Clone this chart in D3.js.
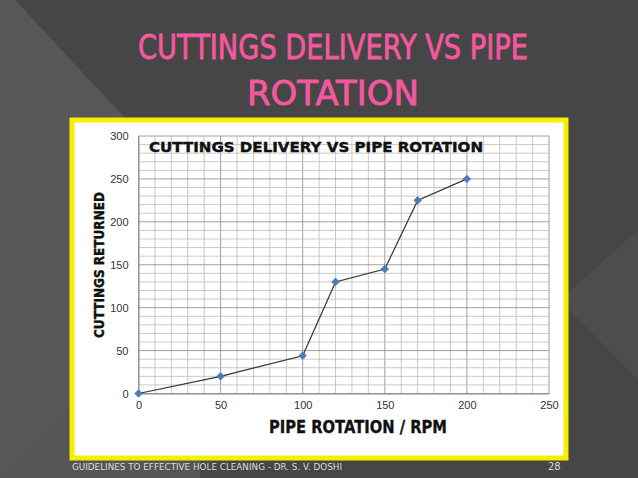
<!DOCTYPE html><html><head><meta charset="utf-8"><script src="https://cdn.jsdelivr.net/npm/d3@7"></script>
<style>body{margin:0;background:#454545}svg{display:block}</style></head><body><svg width="638" height="478"></svg>
<script>
const rpm=[0,50,100,120,150,170,200];
const cuttings=[0,20,44,130,145,225,250];
const xTicks=[0,50,100,150,200,250];
const yTicks=[0,50,100,150,200,250,300];
const svg=d3.select("svg");
svg.append("rect").attr("width",638).attr("height",478).attr("fill","#464646");
svg.append("path").attr("d","M0,0 L15,0 L200,200 L200,478 L0,478Z").attr("fill","#555");
svg.append("path").attr("d","M0,0 L15,0 L240,240 L0,478Z").attr("fill","#5a5a5a").attr("opacity",0.5);
svg.append("path").attr("d","M638,230 L560,300 L638,380Z").attr("fill","#4d4d4d");
const tt=svg.append("g").attr("font-family","'DejaVu Sans',sans-serif").attr("fill","#f4589e").attr("stroke","#f4589e").attr("stroke-width",0.8).attr("text-anchor","middle").attr("font-size","33px");
tt.append("text").attr("x",333).attr("y",59).text("CUTTINGS DELIVERY VS PIPE").attr("textLength",390).attr("lengthAdjust","spacingAndGlyphs");
tt.append("text").attr("x",333).attr("y",105).text("ROTATION").attr("textLength",172).attr("lengthAdjust","spacingAndGlyphs");
svg.append("rect").attr("x",72).attr("y",120).attr("width",494).attr("height",338).attr("fill","#fff").attr("stroke","#f4f000").attr("stroke-width",5);
const x=d3.scaleLinear().domain([0,250]).range([138.5,549]);
const y=d3.scaleLinear().domain([0,300]).range([393.5,136]);
const g=svg.append("g");
g.selectAll(".vm").data(d3.range(0,251,10)).join("line").attr("x1",d=>x(d)).attr("x2",d=>x(d)).attr("y1",y(0)).attr("y2",y(300)).attr("stroke",d=>d%50?"#bbb":"#888").attr("stroke-width",0.8);
g.selectAll(".hm").data(d3.range(0,301,10)).join("line").attr("y1",d=>y(d)).attr("y2",d=>y(d)).attr("x1",x(0)).attr("x2",x(250)).attr("stroke",d=>d%50?"#bbb":"#888").attr("stroke-width",0.8);
const xa=svg.append("g").attr("transform",`translate(0,${y(0)})`).call(d3.axisBottom(x).tickValues(xTicks).tickSize(0).tickPadding(8));
const ya=svg.append("g").attr("transform",`translate(${x(0)},0)`).call(d3.axisLeft(y).tickValues(yTicks).tickSize(0).tickPadding(10));
[xa,ya].forEach(a=>{a.select(".domain").attr("stroke","#888");a.selectAll("text").attr("font-family","'Liberation Sans',sans-serif").attr("font-size","11px").attr("fill","#333");});
svg.append("path").datum(rpm.map((r,i)=>[r,cuttings[i]])).attr("fill","none").attr("stroke","#333").attr("stroke-width",1.2).attr("d",d3.line().x(d=>x(d[0])).y(d=>y(d[1])));
svg.selectAll(".pt").data(rpm.map((r,i)=>[r,cuttings[i]])).join("path").attr("d",d3.symbol(d3.symbolSquare,30)).attr("transform",d=>`translate(${x(d[0])},${y(d[1])}) rotate(45)`).attr("fill","#4a7ebb").attr("stroke","#3a6aa5").attr("stroke-width",0.5);
const ct=svg.append("g").attr("font-family","'DejaVu Sans',sans-serif").attr("font-weight","bold").attr("fill","#111").attr("stroke","#111").attr("stroke-width",0.4);
ct.append("text").attr("x",149).attr("y",152).attr("font-size","14px").attr("textLength",334).attr("lengthAdjust","spacingAndGlyphs").text("CUTTINGS DELIVERY VS PIPE ROTATION");
ct.append("text").attr("x",358).attr("y",433).attr("text-anchor","middle").attr("font-size","18px").attr("textLength",178).attr("lengthAdjust","spacingAndGlyphs").text("PIPE ROTATION / RPM");
ct.append("text").attr("transform","translate(104,265) rotate(-90)").attr("text-anchor","middle").attr("font-size","14px").attr("textLength",146).attr("lengthAdjust","spacingAndGlyphs").text("CUTTINGS RETURNED");
svg.append("text").attr("x",72).attr("y",470).attr("font-family","'DejaVu Sans',sans-serif").attr("font-size","9px").attr("fill","#ddd").attr("textLength",270).attr("lengthAdjust","spacingAndGlyphs").text("GUIDELINES TO EFFECTIVE HOLE CLEANING - DR. S. V. DOSHI");
svg.append("text").attr("x",548).attr("y",470).attr("font-family","'DejaVu Sans',sans-serif").attr("font-size","10px").attr("fill","#ddd").text("28");
</script></body></html>
